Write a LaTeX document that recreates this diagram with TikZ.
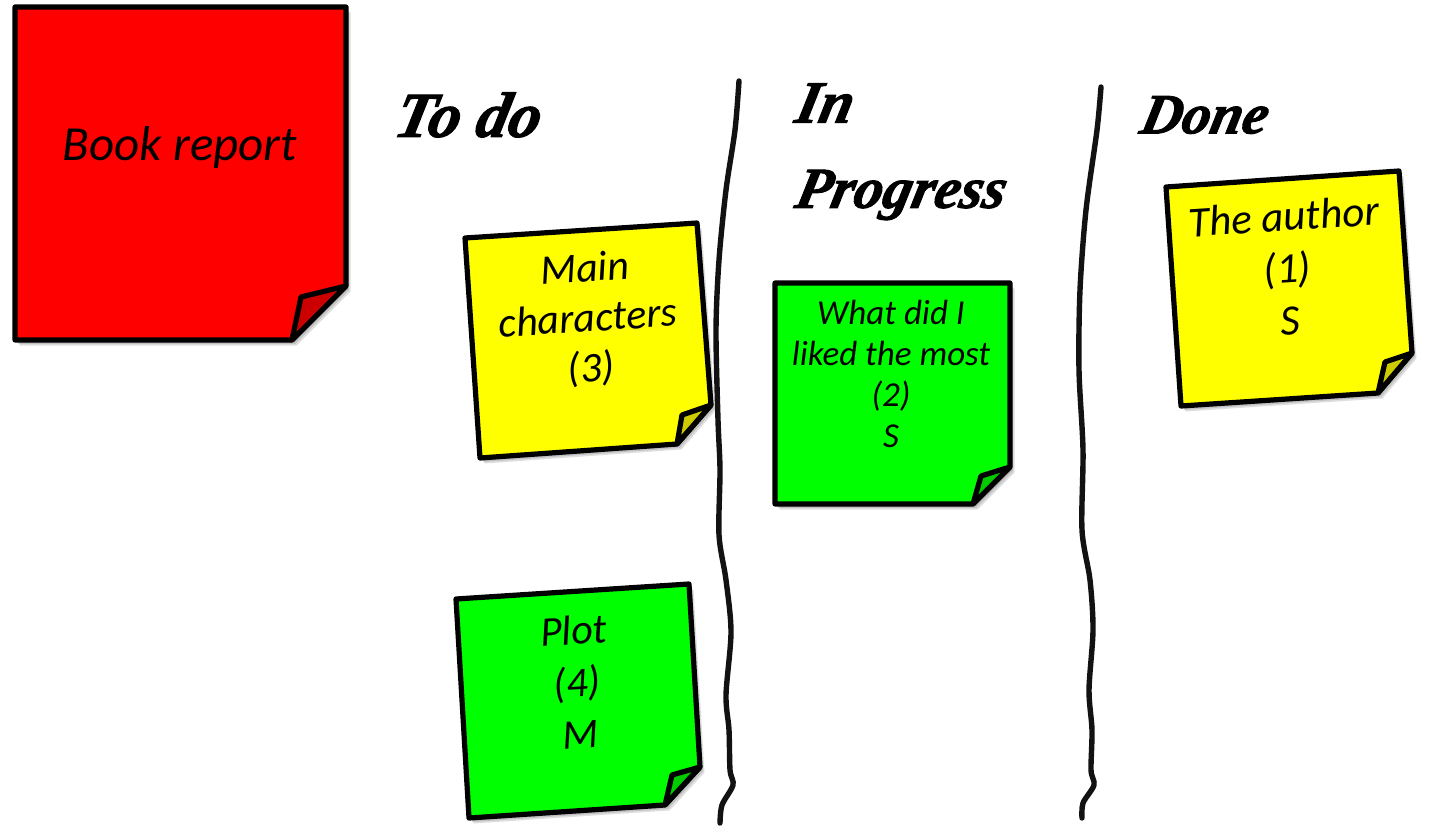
\documentclass[tikz,border=0pt]{standalone}
\usepackage{fontspec}
\setmainfont{Carlito}
\newfontfamily\headfont[FakeSlant=0.22,FakeBold=1.6]{Liberation Serif}
\tikzset{
  x=1pt,y=-1pt,
  notebody/.style={draw=black,line width=5.2pt,line join=round},
  foldpart/.style={draw=black,line width=5.2pt,line join=round},
  shade1/.style={fill=black,opacity=0.13,draw=none},
  divider/.style={draw=black!93,line width=5.4pt,line cap=round,line join=round},
  notetext/.style={align=center,text=black,font=\itshape\fontsize{#1}{#1}\selectfont,inner sep=0pt},
  headtext/.style={anchor=west,inner sep=0pt,align=left,font=\headfont\bfseries\itshape\fontsize{#1}{#1}\selectfont}
}
\definecolor{noteRed}{RGB}{255,0,0}\definecolor{foldRed}{RGB}{204,0,0}
\definecolor{noteYel}{RGB}{255,255,0}\definecolor{foldYel}{RGB}{204,204,0}
\definecolor{noteGrn}{RGB}{0,255,0}\definecolor{foldGrn}{RGB}{0,204,0}
% #1 fill #2 fold fill #3 a #4 b #5 c #6 d #7 e #8 fold inner
\newcommand{\stickynote}[8]{%
  \foreach \d in {1,2.5,4,5.5}{
    \fill[shade1,shift={(\d-1,\d)}] #3 -- #4 -- #5 -- #6 -- #7 -- cycle;
  }
  \path[notebody,fill=#1] #3 -- #4 -- #5 -- #6 -- #7 -- cycle;
  \path[foldpart,fill=#2] #6 -- #8 -- #5 -- cycle;
}
\begin{document}
\begin{tikzpicture}
\useasboundingbox (0,0) rectangle (1456,834);
\stickynote{noteRed}{foldRed}{(15,7)}{(346,7)}{(346,286)}{(292,340)}{(15,340)}{(301,297)}
\stickynote{noteYel}{foldYel}{(465,238)}{(697,223)}{(711,405)}{(677,444)}{(480,458)}{(682,415)}
\stickynote{noteGrn}{foldGrn}{(456,599)}{(689,584)}{(700,767)}{(665,805)}{(469,818)}{(672,775)}
\stickynote{noteGrn}{foldGrn}{(775,283)}{(1010,283)}{(1010,467)}{(973,504)}{(775,504)}{(981,476)}
\stickynote{noteYel}{foldYel}{(1166,187)}{(1399,171)}{(1412,353)}{(1378,393)}{(1181,406)}{(1385,362)}
\draw[divider] plot[smooth,tension=0.5] coordinates {(739,81)(735,130)(726,190)(719,260)(716,330)(718,420)(720,470)(719,535)(726,580)(731,632)(726,695)(729,730)(730,770)(733,785)(722,805)(720,823)};
\draw[divider] plot[smooth,tension=0.5] coordinates {(1101,87)(1097,130)(1086,210)(1080,290)(1079,370)(1083,450)(1082,530)(1090,580)(1093,630)(1089,690)(1092,730)(1091,770)(1094,785)(1083,803)(1082,818)};
\node[notetext=49] (book) at (180,147) {Book report};
\node[notetext=42,rotate=3.7] (main) at (588,320) {Main\\[8pt]characters\\[8pt](3)};
\node[notetext=42,rotate=3.7] (plotn) at (577,682) {Plot\\[10pt](4)\\[10pt]M};
\node[notetext=35] (what) at (891,374) {What did I\\[6pt]liked the most\\[6pt](2)\\[6pt]S};
\node[notetext=43,rotate=3.7] (auth) at (1287,268) {The author\\[9pt](1)\\[9pt]S};
\node[headtext=64] (todo) at (392,115) {To do};
\node[headtext=60] (inp) at (793,103) {In};
\node[headtext=58] (prog) at (793,195) {Progress};
\node[headtext=57] (done) at (1138,115) {Done};
\end{tikzpicture}
\end{document}
